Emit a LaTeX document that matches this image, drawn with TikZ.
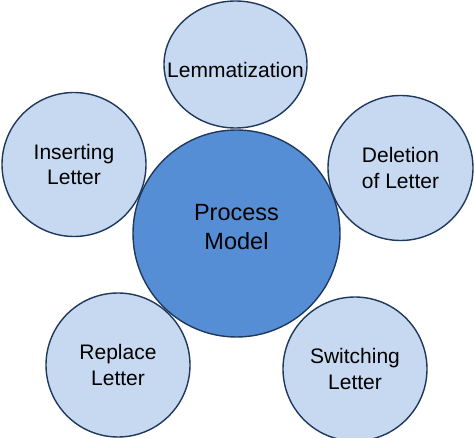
\documentclass[tikz,border=0pt]{standalone}
\usepackage{fontspec}
\setmainfont{Liberation Sans}
\usetikzlibrary{shapes.geometric}
\definecolor{rimblue}{RGB}{31,56,92}
\definecolor{hubblue}{RGB}{85,142,213}
\definecolor{petalblue}{RGB}{198,217,241}
\tikzset{
	petal/.style={circle,draw=rimblue,line width=1.4pt,fill=petalblue,minimum size=144pt,inner sep=0pt,align=center,font=\fontsize{21}{25.5}\selectfont},
	hub/.style={circle,draw=rimblue,line width=1.4pt,fill=hubblue,minimum size=207pt,inner sep=0pt,align=center},
	hubtext/.style={font=\fontsize{23.5}{29}\selectfont,align=center}
}
\begin{document}
\begin{tikzpicture}[x=1pt,y=-1pt]
	\useasboundingbox (0,0) rectangle (474,438);
	% outer ring of steps
	\node[petal,ellipse,minimum width=143pt,minimum height=127pt,label={[name=lemmatext,font=\fontsize{21}{25.5}\selectfont,yshift=-5.5pt]center:Lemmatization}] (lemma) at (235.5,64.5) {};
	\node[petal] (insert) at (74,164.5) {Inserting\\Letter};
	\node[petal,minimum size=145pt] (delete) at (400.5,168) {Deletion\\of Letter};
	\node[petal] (replace) at (118,365) {Replace\\Letter};
	\node[petal] (switch) at (355,369) {Switching\\Letter};
	% hub on top
	\node[hub,label={[name=hubtext,hubtext,yshift=6pt]center:Process\\Model}] (hub) at (236.5,233.5) {};
\end{tikzpicture}
\end{document}
